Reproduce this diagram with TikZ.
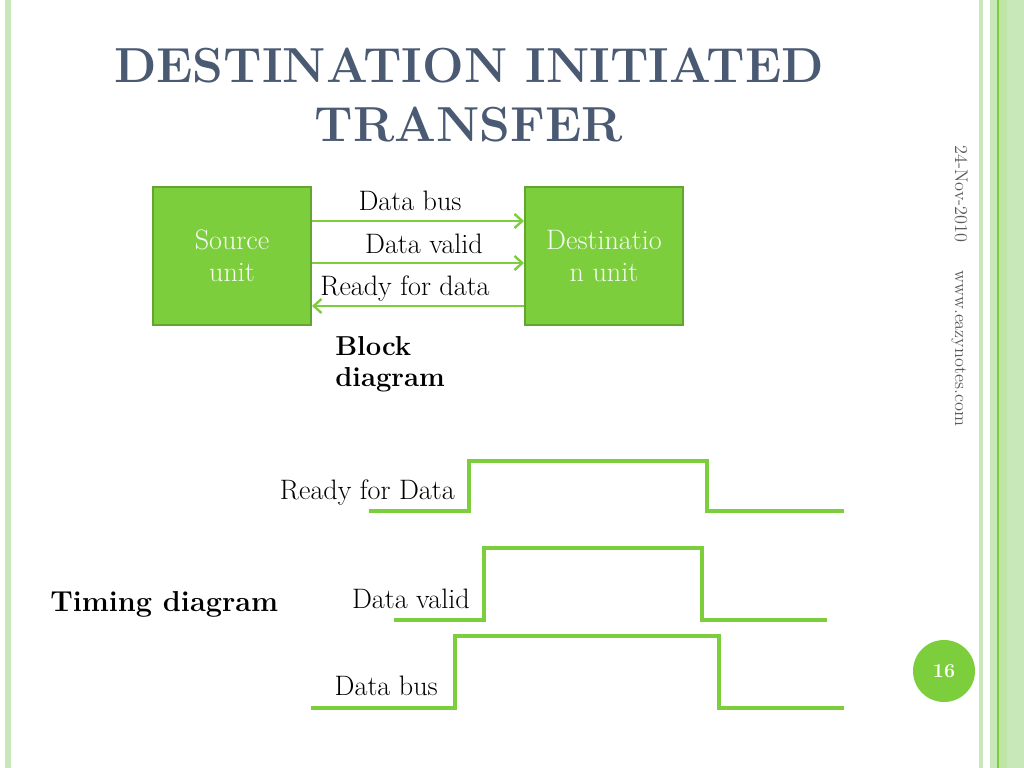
\documentclass[tikz,border=0pt]{standalone}
\usepackage{xcolor}
\usepackage{tikz}
\usetikzlibrary{positioning,calc,arrows.meta}
\definecolor{slideGreen}{HTML}{7DCE3D}
\definecolor{boxEdge}{HTML}{63A62F}
\definecolor{paleGreen}{HTML}{C9E8B9}
\definecolor{titleInk}{HTML}{4A5A73}
\definecolor{sideInk}{HTML}{5A5A5A}
\definecolor{unitText}{HTML}{F6FCF2}
\tikzset{
  unitbox/.style={
    draw=boxEdge, line width=1.4pt, fill=slideGreen,
    minimum width=3.95cm, minimum height=3.45cm, inner sep=0pt,
    align=center, text=unitText, font=\fontsize{20}{22.5}\selectfont
  },
  sigline/.style={slideGreen, line width=2.1pt,
    -{Straight Barb[length=5.5pt,width=10pt,line width=1.7pt]}},
  wave/.style    ={slideGreen, line width=2.5pt},
  sigtext/.style ={font=\fontsize{20}{22}\selectfont, inner sep=0pt},
  boldtext/.style={font=\fontsize{19.5}{21.5}\selectfont\bfseries,
    anchor=base west, align=left, inner sep=0pt},
  titletext/.style={font=\fontsize{35}{42}\selectfont\bfseries,
    text=titleInk, anchor=base, inner sep=0pt},
  sidetext/.style={font=\fontsize{13}{15}\selectfont, text=sideInk,
    rotate=-90, anchor=base west, inner sep=0pt},
}

\begin{document}
\begin{tikzpicture}[x=0.025cm,y=-0.025cm]

% --- page and side bands ------------------------------------------------------
\useasboundingbox (0,0) rectangle (1024,768);
\fill[white] (0,0) rectangle (1024,768);
\fill[paleGreen] (5,0) rectangle (11,768);
\fill[paleGreen] (979,0) rectangle (983,768);
\fill[paleGreen] (990,0) rectangle (1024,768);
\fill[paleGreen!85!slideGreen] (999,0) rectangle (1007,768);
\draw[slideGreen, line width=0.8pt] (998,0) -- (998,768);

% --- title --------------------------------------------------------------------
\node[titletext] (title1) at (469,83) {DESTINATION INITIATED};
\node[titletext] (title2) at (469,142) {TRANSFER};

% --- side texts ---------------------------------------------------------------
\node[sidetext] (date) at (955,145) {24-Nov-2010};
\node[sidetext] (site) at (955,270) {www.eazynotes.com};

% --- block diagram ------------------------------------------------------------
\node[unitbox] (src) at (232,256) {Source\\ unit};
\node[unitbox] (dst) at (604,256) {Destinatio\\n unit};

\draw[sigline] ($(src.north east)+(0,35)$)  -- ($(dst.north west)+(0,35)$);
\draw[sigline] ($(src.north east)+(0,77)$)  -- ($(dst.north west)+(0,77)$);
\draw[sigline] ($(dst.north west)+(0,120)$) -- ($(src.north east)+(0,120)$);

\node[sigtext, anchor=base] (lbus)   at (410,210) {Data bus};
\node[sigtext, anchor=base] (lvalid) at (424,253) {Data valid};
\node[sigtext, anchor=base] (lready) at (405,295) {Ready for data};

% base of a two-line node sits on its last line
\node[boldtext] (blockcap) at (335,386) {Block\\diagram};

% --- timing diagram -----------------------------------------------------------
\node[sigtext, anchor=base east] (tready) at (455,499) {Ready for Data};
\node[sigtext, anchor=base east] (tvalid) at (470,608) {Data valid};
\node[sigtext, anchor=base east] (tbus)   at (438,695) {Data bus};
\node[boldtext, font=\fontsize{20.5}{22}\selectfont\bfseries] (timecap)
  at (50,611) {Timing diagram};

% low level / high level / start / rise / fall / end
\foreach \lo/\hi/\xa/\xb/\xc/\xd in {%
    511/461/369/469/707/844,%
    620/548/394/484/702/827,%
    708/636/311/455/719/844}{%
  \draw[wave] (\xa,\lo) -- (\xb,\lo) -- (\xb,\hi) -- (\xc,\hi)
    -- (\xc,\lo) -- (\xd,\lo);
}

% --- page number --------------------------------------------------------------
\node[circle, fill=slideGreen, minimum size=1.55cm, inner sep=0pt,
  text=white, font=\fontsize{14}{16}\selectfont\bfseries] (pgnum)
  at (944,671) {16};

\end{tikzpicture}
\end{document}
